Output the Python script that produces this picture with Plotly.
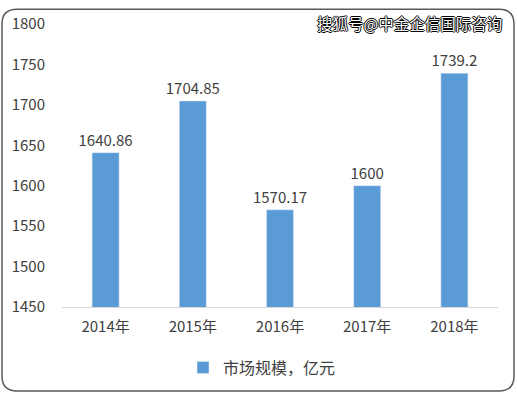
import plotly.graph_objects as go

categories = ["2014年", "2015年", "2016年", "2017年", "2018年"]
values = [1640.86, 1704.85, 1570.17, 1600, 1739.2]
value_labels = ["1640.86", "1704.85", "1570.17", "1600", "1739.2"]
y_ticks = [1450, 1500, 1550, 1600, 1650, 1700, 1750, 1800]
series_name = "市场规模，亿元"
watermark = "搜狐号@中金企信国际咨询"

W, H = 517, 396
ml, mr, mt, mb = 62, 19, 17, 89
pw, ph = W - ml - mr, H - mt - mb

def px(x):
    return (x - ml) / pw

def py(y):
    return (H - mb - y) / ph

font_family = "Noto Sans CJK SC, Noto Sans, sans-serif"
txt = "#404040"

fig = go.Figure()
fig.add_trace(go.Bar(
    x=categories, y=values, name=series_name,
    marker=dict(color="#5B9BD5"),
    text=value_labels, textposition="outside", cliponaxis=False,
    constraintext="none",
    textfont=dict(size=15, color=txt),
    showlegend=True,
))

# rounded border
x0, x1, y0, y1 = px(2), px(514), py(393), py(2)
rx, ry = 15 / pw, 15 / ph
path = (f"M {x0+rx},{y1} L {x1-rx},{y1} Q {x1},{y1} {x1},{y1-ry} "
        f"L {x1},{y0+ry} Q {x1},{y0} {x1-rx},{y0} "
        f"L {x0+rx},{y0} Q {x0},{y0} {x0},{y0+ry} "
        f"L {x0},{y1-ry} Q {x0},{y1} {x0+rx},{y1} Z")

fig.update_layout(
    width=W, height=H,
    margin=dict(l=ml, r=mr, t=mt, b=mb),
    paper_bgcolor="white", plot_bgcolor="white",
    font=dict(family=font_family, color=txt, size=13),
    bargap=0.69,
    xaxis=dict(showline=True, linecolor="#D9D9D9", linewidth=1, ticks="",
               tickfont=dict(size=15, color=txt), showgrid=False, ticklabelstandoff=6),
    yaxis=dict(range=[1450, 1800], tickvals=y_ticks, showgrid=False,
               showline=False, zeroline=False, ticks="",
               tickfont=dict(size=15, color=txt), ticklabelstandoff=16),
    legend=dict(orientation="h", x=px(262), xanchor="center", y=py(369), yanchor="middle",
                font=dict(size=16, color=txt), itemwidth=30),
    shapes=[dict(type="path", path=path, xref="paper", yref="paper",
                 line=dict(color="#595959", width=1.5), fillcolor="rgba(0,0,0,0)")],
    annotations=[dict(text=watermark, xref="paper", yref="paper",
                      x=px(504), y=py(16), xanchor="right", yanchor="middle",
                      showarrow=False,
                      font=dict(size=15.5, color="white", family=font_family,
                                shadow="-1px 0 #000, 1px 0 #000, 0 -1px #000, 0 1px #000"))],
)

fig.write_html("out.html", config={"displayModeBar": False},
               post_script="document.body.style.margin='0';document.body.style.overflow='hidden';")
